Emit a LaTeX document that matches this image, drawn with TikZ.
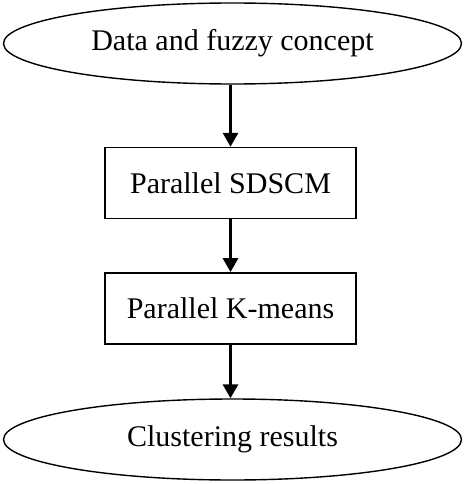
\documentclass[tikz,border=0pt]{standalone}
\usepackage{fontspec}
\setmainfont{Liberation Serif}
\usetikzlibrary{shapes.geometric,arrows.meta}
\begin{document}
\begin{tikzpicture}[x=1pt,y=-1pt,
  every node/.style={font=\fontsize{30}{35}\selectfont, text=black},
  oval/.style={draw, ellipse, line width=1.4pt, minimum width=458pt, minimum height=81pt, inner sep=0pt},
  stepbox/.style={draw, rectangle, line width=1.4pt, minimum width=251pt, minimum height=71pt, inner sep=0pt},
  flow/.style={line width=3pt, -{Triangle[width=15pt,length=14pt]}}]
\useasboundingbox (0,0) rectangle (465,484);
\node[oval] (e1) at (232.5,43.5) {Data and fuzzy concept};
\node[stepbox] (b1) at (230.5,183) {Parallel SDSCM};
\node[stepbox] (b2) at (230.5,308.3) {Parallel K-means};
\node[oval] (e2) at (232.5,439.5) {Clustering results};
\draw[flow] (e1.south -| b1.north) -- (b1.north);
\draw[flow] (b1.south) -- (b2.north);
\draw[flow] (b2.south) -- (b2.south |- e2.north);
\end{tikzpicture}
\end{document}
